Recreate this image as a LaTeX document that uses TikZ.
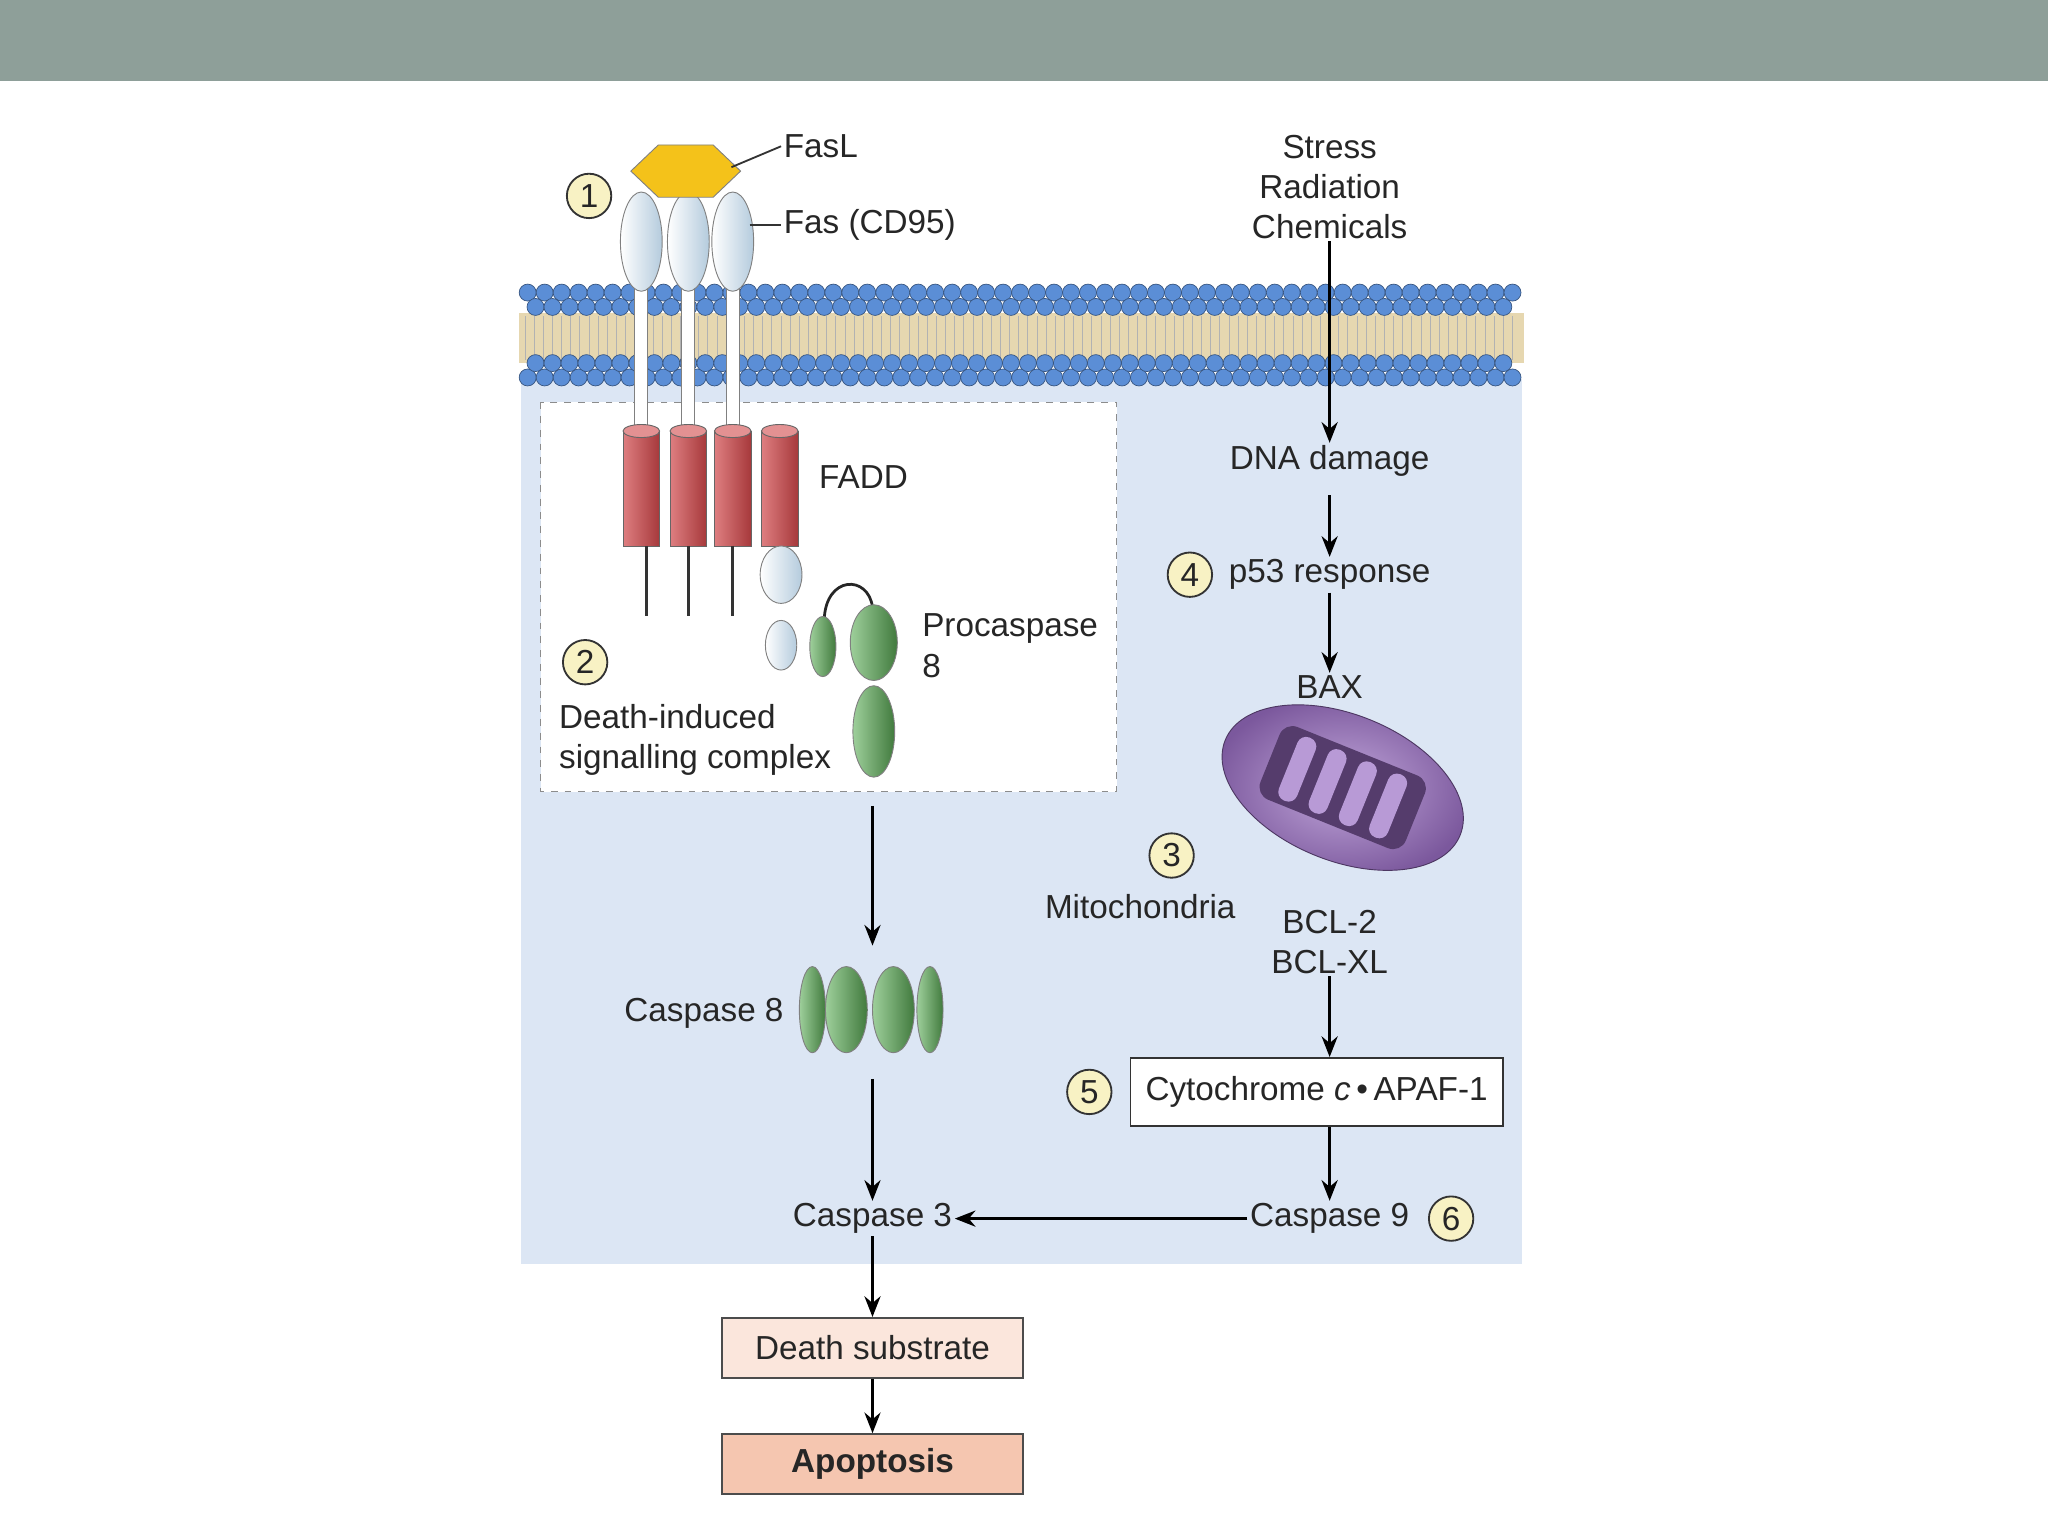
\documentclass[tikz,border=0pt]{standalone}
\usepackage{fontspec}
\setmainfont{Liberation Sans}
\usetikzlibrary{shapes.geometric,arrows.meta}
\definecolor{bar}{HTML}{8E9F99}
\definecolor{cell}{HTML}{DCE6F4}
\definecolor{bead}{HTML}{5B8ED6}
\definecolor{tail}{HTML}{E6D7B0}
\definecolor{fasl}{HTML}{F4C21A}
\definecolor{fas}{HTML}{B4CBDD}
\definecolor{fadd}{HTML}{D0474A}
\definecolor{grn}{HTML}{5DAF58}
\definecolor{callout}{HTML}{F8F2C4}
\definecolor{mito}{HTML}{9A6EC4}
\definecolor{sub}{HTML}{FBE6DC}
\definecolor{apo}{HTML}{F5C6B0}
\begin{document}
\begin{tikzpicture}[x=0.02cm,y=-0.02cm,
  every node/.style={font=\fontsize{14.5}{17.5}\selectfont,text=black!85},
  lbl/.style={inner sep=1pt},
  arr/.style={-{Stealth[length=9pt,width=7pt]},line width=1.3pt},
  num/.style={circle,draw=black!80,fill=callout,minimum size=34*0.02cm,inner sep=0pt,line width=0.8pt},
  box/.style={draw=black!70,line width=0.8pt,minimum width=230*0.02cm,minimum height=46*0.02cm}]
\useasboundingbox (0,0) rectangle (1568,1176);
\fill[white] (0,0) rectangle (1568,1176);
\fill[bar] (0,0) rectangle (1568,62);
\fill[cell] (399,290) rectangle (1165,968);
% membrane
\fill[tail] (397,240) rectangle (1167,278);
\foreach \x in {402,409,...,1162} \draw[black!30,line width=0.4pt] (\x,242) -- (\x,276);
\foreach \x in {404,417,...,1164} {\fill[bead,draw=bead!60!black,line width=0.3pt] (\x,224) circle (6.5);
  \fill[bead,draw=bead!60!black,line width=0.3pt] (\x,289) circle (6.5);}
\foreach \x in {410,423,...,1160} {\fill[bead,draw=bead!60!black,line width=0.3pt] (\x,235) circle (6.5);
  \fill[bead,draw=bead!60!black,line width=0.3pt] (\x,278) circle (6.5);}
% dashed DISC box
\draw[dashed,black!45,fill=white] (414,308) rectangle (855,606);
% Fas receptors
\foreach \x in {491,527,561} {
  \fill[white,draw=black!50] (\x-5,220) rectangle (\x+5,330);
  \shade[left color=white,right color=fas,draw=black!50] (\x,185) ellipse [x radius=16,y radius=38];}
\node[regular polygon,regular polygon sides=6,shape border rotate=0,draw=black!50,fill=fasl,minimum width=84*0.02cm,inner sep=0pt,yscale=0.55] (fasl) at (525,131) {};
% FADD
\foreach \x in {491,527,561,597} {
  \shade[left color=fadd!70!white,right color=fadd!80!black,draw=black!60] (\x-14,330) rectangle (\x+14,418);
  \draw[black!60,fill=fadd!60!white] (\x,330) ellipse [x radius=14,y radius=5];}
\foreach \x in {495,527,561} \draw[line width=1.2pt,black!80] (\x,418) -- (\x,472);
\shade[left color=white,right color=fas,draw=black!50] (598,440) ellipse [x radius=16,y radius=22];
\shade[left color=white,right color=fas,draw=black!50] (598,494) ellipse [x radius=12,y radius=19];
% procaspase 8
\draw[line width=1.2pt,black!85] (631,475) .. controls (632,440) and (665,440) .. (668,465);
\shade[left color=grn!60!white,right color=grn!70!black,draw=black!50] (630,495) ellipse [x radius=10,y radius=23];
\shade[left color=grn!60!white,right color=grn!70!black,draw=black!50] (669,492) ellipse [x radius=18,y radius=29];
\shade[left color=grn!60!white,right color=grn!70!black,draw=black!50] (669,560) ellipse [x radius=16,y radius=35];
% labels
\node[lbl,anchor=west] (lfasl) at (598,112) {FasL};
\node[lbl,anchor=west] (lfas) at (598,172) {Fas (CD95)};
\draw[black!80,line width=0.8pt] (560,128) -- (lfasl.west);
\draw[black!80,line width=0.8pt] (574,172) -- (lfas.west);
\node[lbl,anchor=west] at (625,365) {FADD};
\node[lbl,anchor=north west,align=left] at (704,468) {Procaspase\\8};
\node[lbl,anchor=north west,align=left] at (426,537) {Death-induced\\signalling complex};
\node[num] (n1) at (451,150) {1};
\node[num] (n2) at (448,507) {2};
% intrinsic
\node[lbl,align=center] (stress) at (1018,143) {Stress\\Radiation\\Chemicals};
\node[lbl] (dna) at (1018,353) {DNA damage};
\node[lbl] (p53) at (1018,440) {p53 response};
\node[num] (n4) at (911,440) {4};
\node[lbl] (bax) at (1018,526) {BAX};
\begin{scope}[shift={(1028,603)},rotate=-22]
\shade[inner color=mito!60!white,outer color=mito!80!black,draw=mito!50!black] (0,0) ellipse [x radius=97,y radius=56];
\fill[mito!55!black,rounded corners=6] (-60,-30) rectangle (60,30);
\foreach \x in {-45,-20,5,30} \fill[mito!70!white,rounded corners=4] (\x,-26) rectangle (\x+15,26);
\end{scope}
\node[num] (n3) at (897,655) {3};
\node[lbl] at (873,694) {Mitochondria};
\node[lbl,align=center] (bcl) at (1018,721) {BCL-2\\BCL-XL};
\node[draw=black!80,line width=0.8pt,fill=white,minimum width=285*0.02cm,minimum height=52*0.02cm] (cyt) at (1008,836) {Cytochrome \textit{c}\,\textbullet\,APAF-1};
\node[num] (n5) at (834,836) {5};
\node[lbl] (c9) at (1018,933) {Caspase 9};
\node[num] (n6) at (1111,933) {6};
\node[lbl] (c3) at (668,933) {Caspase 3};
% caspase 8
\coordinate (disc) at (668,617);
\foreach \x/\r in {622/10,648/16,684/16,712/10}
  \shade[left color=grn!60!white,right color=grn!70!black,draw=black!50] (\x,773) ellipse [x radius=\r,y radius=33];
\node[lbl,anchor=east] at (602,776) {Caspase 8};
\coordinate (c8t) at (668,724);
\coordinate (c8b) at (668,826);
\node[box,fill=sub] (ds) at (668,1032) {Death substrate};
\node[box,fill=apo,font=\fontsize{14.5}{17.5}\selectfont\bfseries] (apop) at (668,1121) {Apoptosis};
% arrows
\draw[arr] (stress.south) -- (dna.north);
\draw[arr] (dna.south) ++(0,12) -- (p53.north);
\draw[arr] (p53.south) -- (bax.north);
\draw[arr] (bcl.south) -- (bcl.south |- cyt.north);
\draw[arr] (bcl.south |- cyt.south) -- (c9.north);
\draw[arr] (c9.west) -- (c3.east);
\draw[arr] (disc) -- (c8t);
\draw[arr] (c8b) -- (c3.north);
\draw[arr] (c3.south -| ds.north) -- (ds.north);
\draw[arr] (ds.south) -- (apop.north);
\end{tikzpicture}
\end{document}
